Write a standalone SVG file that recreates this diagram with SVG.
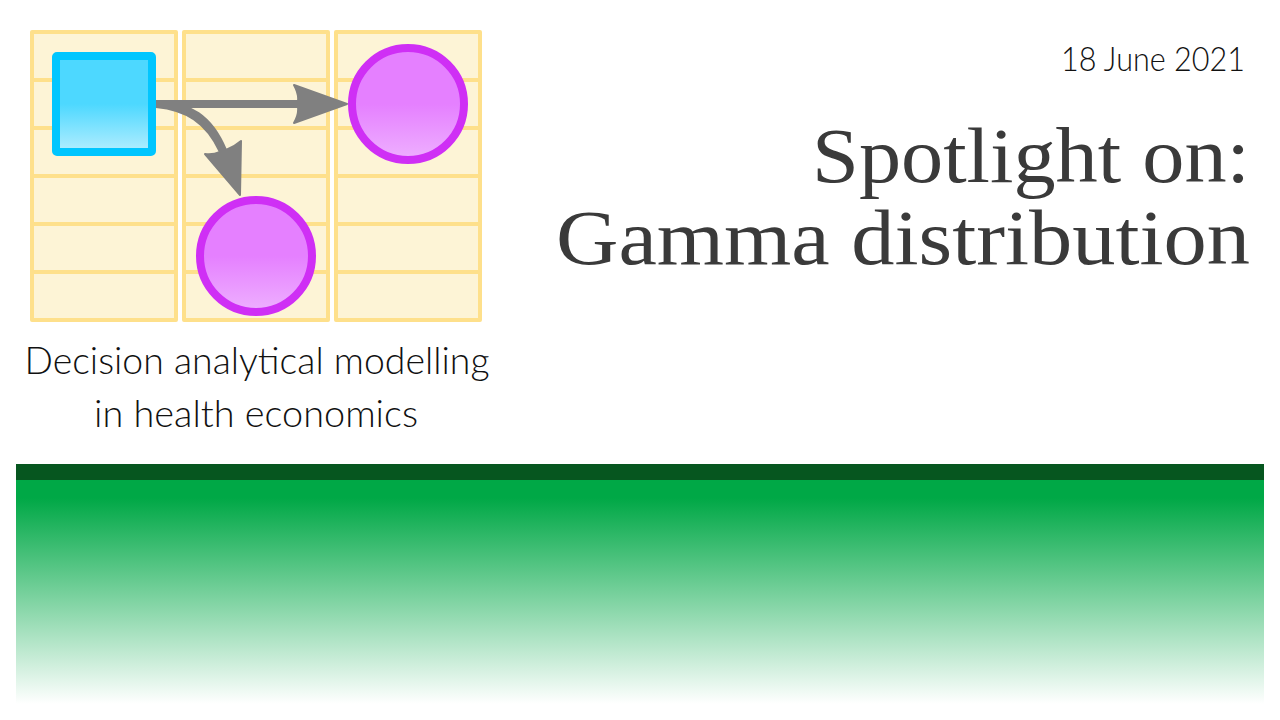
<svg xmlns="http://www.w3.org/2000/svg" width="1280" height="720" viewBox="0 0 1280 720">
<style>
.col{fill:#fdf4d6;stroke:#fee08b;stroke-width:4;stroke-linejoin:round}
.row{stroke:#fee08b;stroke-width:4;fill:none}
.arrow{fill:#808080;stroke:#808080;stroke-width:2;stroke-linejoin:round}
.sans{font-family:"Lato","Liberation Sans",sans-serif;font-weight:300;fill:#111}
.serif{font-family:"Liberation Serif",serif;fill:#3a3a3a;font-size:78px;text-anchor:end}
.circ{fill:url(#pg);stroke:#cf2ff5;stroke-width:8}
</style>
<defs>
<linearGradient id="pg" x1="0" y1="0" x2="0" y2="1"><stop offset="0" stop-color="#e580ff"/><stop offset="0.5" stop-color="#e580ff"/><stop offset="1" stop-color="#eeb0ff"/></linearGradient>
<linearGradient id="bg" x1="0" y1="0" x2="0" y2="1"><stop offset="0" stop-color="#4dd8ff"/><stop offset="0.5" stop-color="#4dd8ff"/><stop offset="1" stop-color="#b3eeff"/></linearGradient>
<linearGradient id="gg" x1="0" y1="0" x2="0" y2="1"><stop offset="0" stop-color="#00a846"/><stop offset="0.08" stop-color="#00a846"/><stop offset="1" stop-color="#ffffff"/></linearGradient>
</defs>
<rect width="1280" height="720" fill="#fff"/>
<g id="table">
<rect class="col" x="32" y="32" width="144" height="288"/>
<rect class="col" x="184" y="32" width="144" height="288"/>
<rect class="col" x="336" y="32" width="144" height="288"/>
<path class="row" d="M32 80H176M184 80H328M336 80H480M32 128H176M184 128H328M336 128H480M32 176H176M184 176H328M336 176H480M32 224H176M184 224H328M336 224H480M32 272H176M184 272H328M336 272H480"/>
</g>
<g id="connectors">
<path class="arrow" d="M156 101H298Q299 94 294 85L347 104L294 123Q299 114 298 107H156Z"/>
<path class="arrow" d="M156 101C190 102 212 116 226 150Q234 147 241 141L240 195L205 154Q213 155 220 152C206 122 186 110 156 107Z"/>
</g>
<g id="node-square"><rect x="56" y="56" width="96" height="96" rx="1" fill="url(#bg)" stroke="#00c6ff" stroke-width="8" stroke-linejoin="round"/></g>
<g id="node-circle-1"><circle class="circ" cx="408" cy="104" r="56"/></g>
<g id="node-circle-2"><circle class="circ" cx="256" cy="256" r="56"/></g>
<g id="caption">
<text class="sans" x="257" y="374" font-size="38" text-anchor="middle" textLength="465" lengthAdjust="spacingAndGlyphs">Decision analytical modelling</text>
<text class="sans" x="256" y="427" font-size="38" text-anchor="middle" textLength="324" lengthAdjust="spacingAndGlyphs">in health economics</text>
</g>
<g id="title">
<text class="sans" x="1245" y="71" font-size="34" text-anchor="end" textLength="184" lengthAdjust="spacingAndGlyphs">18 June 2021</text>
<text class="serif" x="1250" y="182" textLength="438" lengthAdjust="spacingAndGlyphs">Spotlight on:</text>
<text class="serif" x="1250" y="264" textLength="694" lengthAdjust="spacingAndGlyphs">Gamma distribution</text>
</g>
<g id="band">
<rect x="16" y="480" width="1248" height="224" fill="url(#gg)"/>
<rect x="16" y="464" width="1248" height="16" fill="#06561f"/>
</g>
</svg>
